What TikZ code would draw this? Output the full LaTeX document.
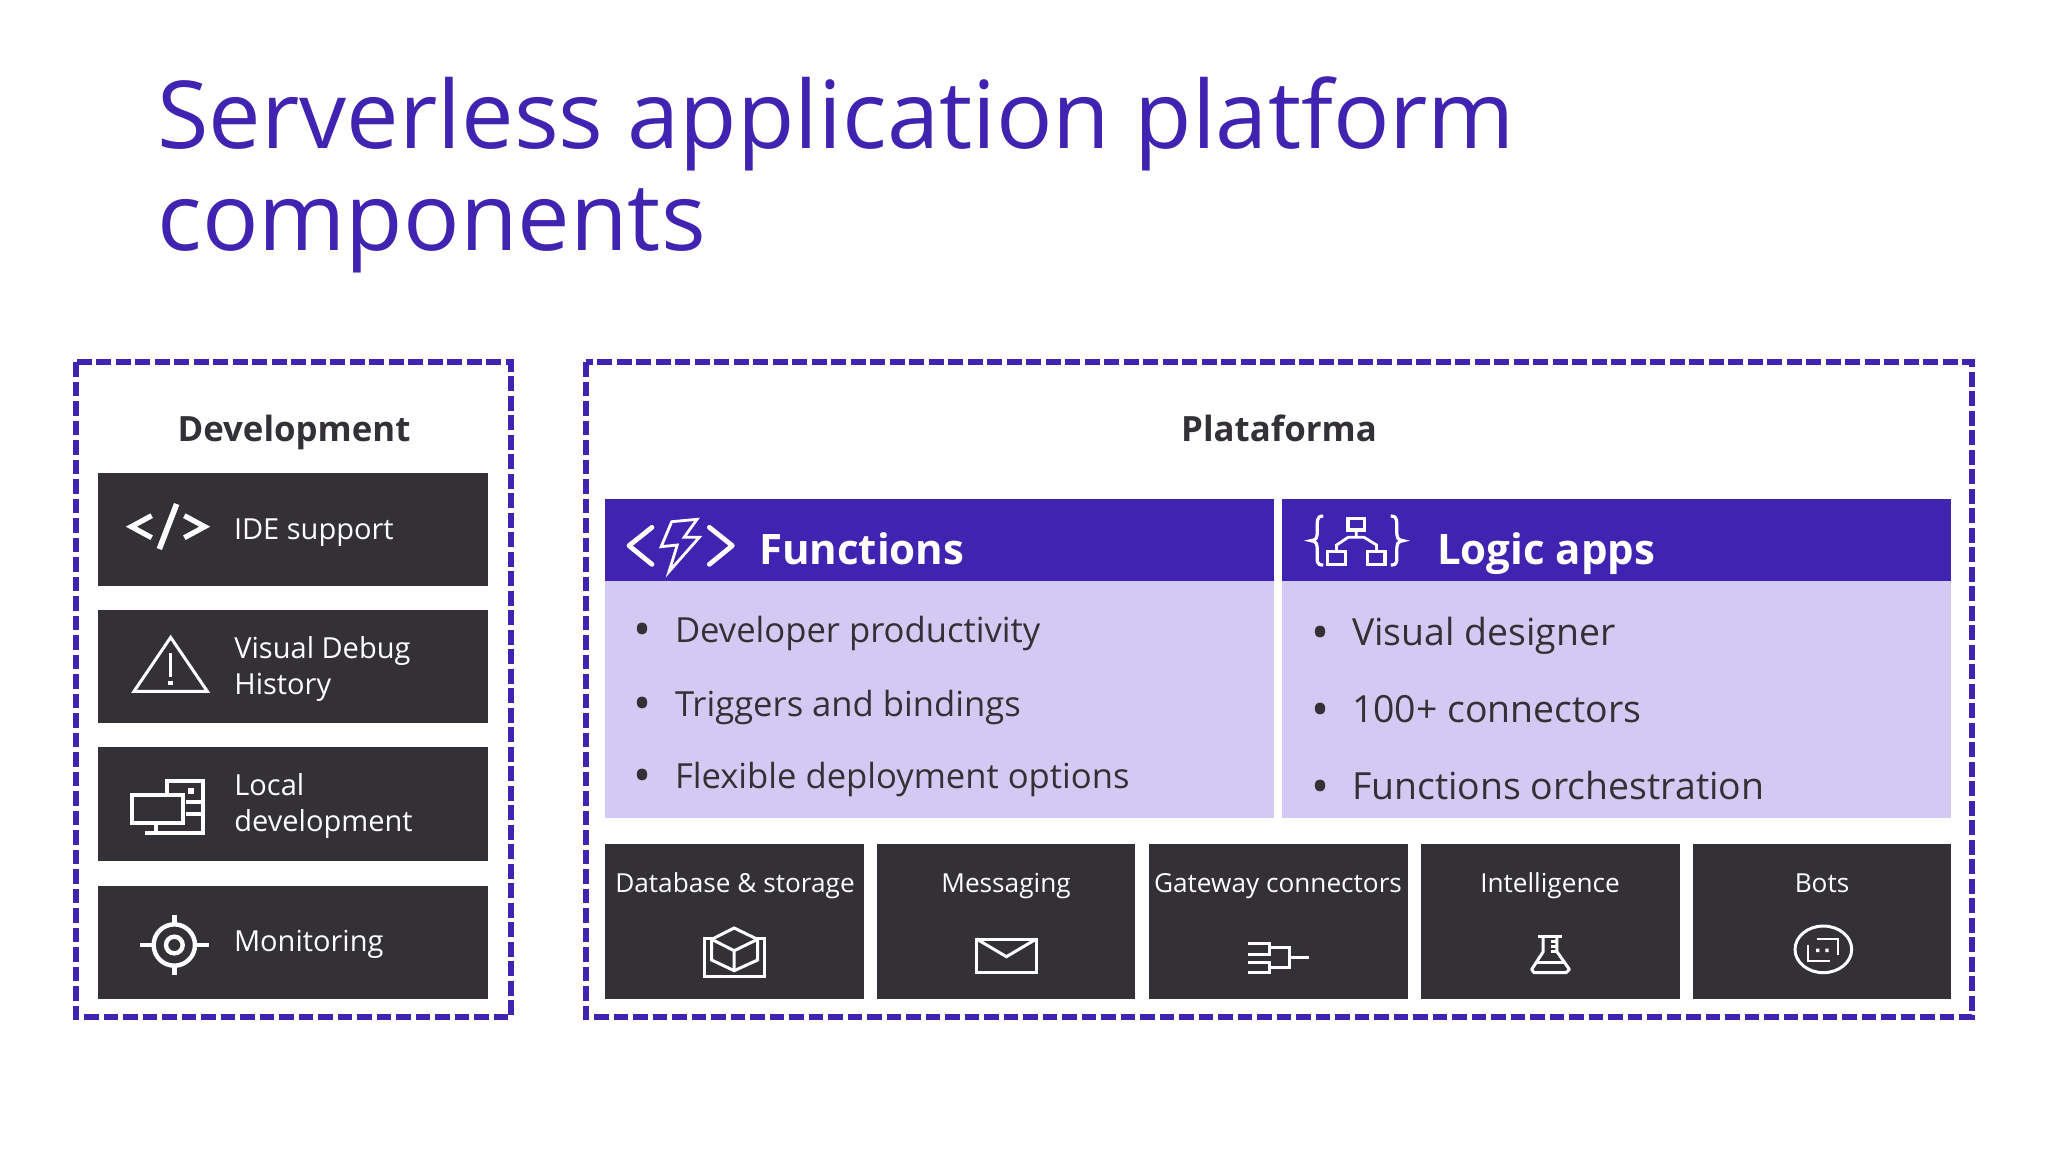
\documentclass[tikz,border=0pt]{standalone}
\usepackage{fontspec}
\setmainfont{Open Sans}
\definecolor{violet}{HTML}{4123B1}
\definecolor{lilac}{HTML}{D2CAF2}
\definecolor{slate}{HTML}{333135}
\tikzset{
  panel/.style={fill=slate,draw=none},
  txt/.style={inner sep=0pt,outer sep=0pt,anchor=base west},
  box label/.style={txt,text=white,font=\fontsize{14.5}{18}\selectfont},
  two lines/.style={inner sep=0pt,anchor=west,align=left,text=white,font=\fontsize{14.5}{18}\selectfont},
  small label/.style={inner sep=0pt,anchor=base,text=white,font=\fontsize{13.1}{15}\selectfont},
  group title/.style={inner sep=0pt,anchor=base,text=slate,font=\bfseries\fontsize{17.4}{20}\selectfont},
  head/.style={txt,text=white,font=\bfseries\fontsize{21}{26}\selectfont},
  item/.style={txt,text=slate,font=\fontsize{17.3}{20}\selectfont},
  item big/.style={txt,text=slate,font=\fontsize{18.7}{22}\selectfont},
  bul/.style={inner sep=0pt,anchor=base,text=slate,yshift=-2pt,font=\fontsize{24}{26}\selectfont},
  frame/.style={draw=violet,line width=2.6pt,dash pattern=on 7.3pt off 2.45pt},
  icon/.style={draw=white,line width=1.5pt,line join=miter}
}
\begin{document}
\begin{tikzpicture}[x=0.5pt,y=-0.5pt]
\useasboundingbox (0,0) rectangle (2048,1152);
\fill[white] (0,0) rectangle (2048,1152);

% title
\node[inner sep=0pt,anchor=north west,align=left,text=violet,font=\fontsize{46.9}{51.2}\selectfont] (title) at (157,76) {Serverless application platform\\components};

% dashed groups
\draw[frame] (76,362) rectangle (511,1017);
\draw[frame] (586,362) rectangle (1972,1017);
\node[group title] (devt) at (294,441) {Development};
\node[group title] (platt) at (1279,441) {Plataforma};

% left column
\fill[panel] (98,473) rectangle (488,586);
\fill[panel] (98,610) rectangle (488,723);
\fill[panel] (98,747) rectangle (488,861);
\fill[panel] (98,886) rectangle (488,999);
\node[box label] (ide) at (234,539) {IDE support};
\node[two lines] (dbg) at (234,669) {Visual Debug\\History};
\node[two lines] (loc) at (234,806) {Local\\development};
\node[box label] (mon) at (234,951) {Monitoring};

% left column icons, in crop pixels
\begin{scope}[shift={(60,350)},x=0.16667pt,y=-0.16667pt]
  \draw[icon,line width=2.6pt] (275,497) -- (214,530) -- (275,563);
  \draw[icon,line width=2.6pt] (373,497) -- (434,530) -- (373,563);
  \draw[icon,line width=2.8pt] (350,462) -- (298,597);
  \draw[icon] (332,862) -- (442,1024) -- (222,1024) -- cycle;
  \draw[icon] (332,910) -- (332,982);
  \fill[white] (325,992) rectangle (339,1005);
\end{scope}
\begin{scope}[shift={(60,740)},x=0.16667pt,y=-0.16667pt]
  \draw[icon,line width=2pt] (215,165) rectangle (370,250);
  \draw[icon,line width=2pt] (288,250) -- (288,279) (256,279) -- (428,279) -- (428,122) -- (320,122) -- (320,165);
  \draw[icon,line width=2pt] (377,185) -- (428,185) (377,222) -- (428,222);
  \fill[white] (383,143) rectangle (402,161);
  \draw[icon,line width=2.2pt] (343,615) circle (62);
  \draw[icon,line width=2.2pt] (343,615) circle (25);
  \draw[icon,line width=2.2pt] (343,525) -- (343,558) (343,672) -- (343,706) (241,615) -- (275,615) (412,615) -- (446,615);
\end{scope}

% service panels
\fill[violet] (605,499) rectangle (1274,581);
\fill[lilac] (605,581) rectangle (1274,818);
\fill[violet] (1282,499) rectangle (1951,581);
\fill[lilac] (1282,581) rectangle (1951,818);
\node[head] (fn) at (759,564) {Functions};
\node[head] (la) at (1437,564) {Logic apps};

\node[bul] (fb1) at (643,642) {•};
\node[bul] (fb2) at (643,716) {•};
\node[bul] (fb3) at (643,788) {•};
\node[item] (f1) at (675,642) {Developer productivity};
\node[item] (f2) at (675,716) {Triggers and bindings};
\node[item] (f3) at (675,788) {Flexible deployment options};

\node[bul] (lb1) at (1321,645) {•};
\node[bul] (lb2) at (1321,722) {•};
\node[bul] (lb3) at (1321,799) {•};
\node[item big] (l1) at (1352,645) {Visual designer};
\node[item big] (l2) at (1352,722) {100+ connectors};
\node[item big] (l3) at (1352,799) {Functions orchestration};

% functions icon
\begin{scope}[shift={(590,480)},x=0.22957pt,y=-0.16667pt]
  \draw[icon,line width=2.4pt,line cap=round,line join=round] (135,142) -- (85,197) -- (135,253);
  \draw[icon,line width=2.4pt,line cap=round,line join=round] (260,142) -- (310,197) -- (260,253);
  \draw[icon,line width=1.4pt] (178,125) -- (233,118) -- (205,172) -- (238,172) -- (172,275) -- (190,195) -- (155,200) -- cycle;
\end{scope}
% logic apps icon
\begin{scope}[shift={(1270,480)},x=0.22957pt,y=-0.16667pt]
  \draw[icon,line width=1.6pt] (116,108) .. controls (100,108) and (103,125) .. (103,150) .. controls (103,175) and (101,180) .. (89,182) .. controls (101,184) and (103,190) .. (103,215) .. controls (103,245) and (100,255) .. (116,255);
  \draw[icon,line width=1.6pt] (263,108) .. controls (279,108) and (276,125) .. (276,150) .. controls (276,175) and (278,180) .. (290,182) .. controls (278,184) and (276,190) .. (276,215) .. controls (276,245) and (279,255) .. (263,255);
  \draw[icon,line width=1.7pt] (170,115) rectangle (206,150);
  \draw[icon,line width=1.7pt] (125,215) rectangle (165,253);
  \draw[icon,line width=1.7pt] (212,215) rectangle (250,253);
  \draw[icon,line width=1.4pt] (188,150) -- (188,172) (145,215) -- (145,195) -- (170,172) -- (205,172) -- (232,195) -- (232,215);
\end{scope}

% bottom row
\fill[panel] (605,844) rectangle (864,999);
\fill[panel] (877,844) rectangle (1135,999);
\fill[panel] (1149,844) rectangle (1408,999);
\fill[panel] (1421,844) rectangle (1680,999);
\fill[panel] (1693,844) rectangle (1951,999);
\node[small label] (db) at (735,892) {Database \& storage};
\node[small label] (msg) at (1006,892) {Messaging};
\node[small label] (gw) at (1278,892) {Gateway connectors};
\node[small label] (ai) at (1550,892) {Intelligence};
\node[small label] (bot) at (1822,892) {Bots};

\begin{scope}[shift={(590,830)},x=0.22957pt,y=-0.16667pt]
  % database
  \draw[icon] (270,325) -- (250,325) -- (250,440) -- (380,440) -- (380,325) -- (360,325);
  \draw[icon] (314,294) -- (365,328) -- (365,390) -- (314,422) -- (265,390) -- (265,328) -- cycle;
  \draw[icon] (265,328) -- (314,362) -- (365,328) (314,362) -- (314,422);
  % envelope
  \draw[icon] (842,327) rectangle (972,428);
  \draw[icon] (842,327) -- (907,380) -- (972,327);
  % gateway
  \draw[icon] (1432,340) -- (1480,340) -- (1480,352) -- (1524,352) -- (1524,412) -- (1480,412) -- (1480,426) -- (1432,426);
  \draw[icon] (1432,372) -- (1480,372) -- (1480,352) (1432,398) -- (1480,398) -- (1480,412) (1524,382) -- (1566,382);
\end{scope}
\begin{scope}[shift={(1270,830)},x=0.22957pt,y=-0.16667pt]
  % flask
  \draw[icon] (584,318) -- (637,318);
  \draw[icon,line join=round] (595,318) -- (595,365) -- (570,418) -- (575,428) -- (645,428) -- (652,418) -- (625,365) -- (625,318);
  \draw[icon] (580,398) -- (642,398) (612,335) -- (625,335) (612,350) -- (625,350) (612,365) -- (625,365);
\end{scope}
% bot
\begin{scope}[shift={(1600,900)},x=0.16667pt,y=-0.16667pt]
  \draw[icon] (670,148) ellipse [x radius=85,y radius=70];
  \draw[icon,line width=1.1pt] (650,118) -- (715,118) -- (715,165) (625,135) -- (625,183) -- (690,183);
  \fill[white] (648,146) rectangle (658,156) (676,146) rectangle (686,156);
\end{scope}
\end{tikzpicture}
\end{document}
